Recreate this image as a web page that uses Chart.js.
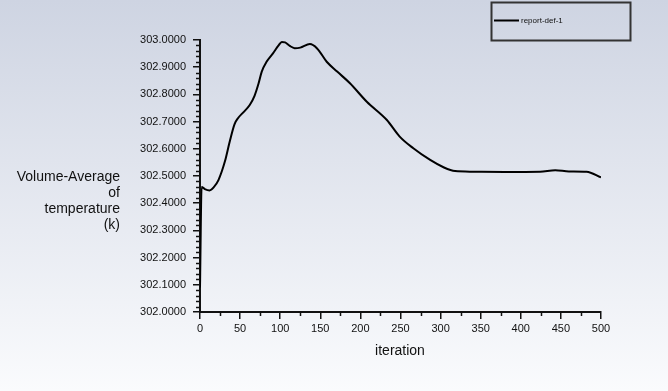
<!DOCTYPE html>
<html>
<head>
<meta charset="utf-8">
<script src="https://cdn.jsdelivr.net/npm/chart.js@4.4.1/dist/chart.umd.min.js"></script>
<style>
  html, body { margin: 0; padding: 0; background: #fff; }
  canvas { display: block; }
</style>
</head>
<body>
<canvas id="grafico" width="668" height="391"></canvas>
<script>
// datos
const iteraciones = [0, 2, 6, 12, 17, 23, 31, 37, 43, 48, 54, 62, 68, 73, 77, 83, 91, 98, 102, 106, 112, 118, 125, 137, 146, 158, 171, 187, 208, 233, 249, 266, 287, 303, 318, 340, 380, 424, 443, 460, 482, 500];
const temperatura = [302.09, 302.46, 302.452, 302.447, 302.458, 302.485, 302.553, 302.626, 302.69, 302.715, 302.734, 302.761, 302.795, 302.84, 302.884, 302.92, 302.951, 302.98, 302.993, 302.991, 302.978, 302.970, 302.972, 302.985, 302.969, 302.920, 302.884, 302.841, 302.773, 302.706, 302.645, 302.602, 302.559, 302.533, 302.518, 302.516, 302.515, 302.516, 302.521, 302.517, 302.516, 302.495];
const nombreSerie = 'report-def-1';
const tituloY = ['Volume-Average', 'of', 'temperature', '(k)'];
const tituloX = 'iteration';

const fuente = 'Arial, "Liberation Sans", sans-serif';

// fondo degradado, titulos, ticks menores y leyenda
const decoracion = {
    id: 'decoracion',
    beforeDraw(chart) {
        const ctx = chart.ctx;
        const g = ctx.createLinearGradient(0, 0, 0, chart.height);
        g.addColorStop(0, '#ced4e2');
        g.addColorStop(1, '#fafbfd');
        ctx.save();
        ctx.fillStyle = g;
        ctx.fillRect(0, 0, chart.width, chart.height);
        ctx.restore();
    },
    afterDraw(chart) {
        const ctx = chart.ctx;
        const x = chart.scales.x, y = chart.scales.y;
        const area = chart.chartArea;
        ctx.save();
        ctx.strokeStyle = '#111';
        ctx.lineWidth = 1.5;
        // ticks menores eje y
        for (let v = 302.02; v < 303; v += 0.02) {
            if (Math.abs(v * 10 - Math.round(v * 10)) < 0.001) continue;
            const py = Math.round(y.getPixelForValue(v)) + 0.5;
            ctx.beginPath();
            ctx.moveTo(area.left - 4, py);
            ctx.lineTo(area.left, py);
            ctx.stroke();
        }
        // ticks menores eje x
        for (let v = 25; v < 500; v += 50) {
            const px = Math.round(x.getPixelForValue(v)) + 0.5;
            ctx.beginPath();
            ctx.moveTo(px, area.bottom);
            ctx.lineTo(px, area.bottom + 4);
            ctx.stroke();
        }
        // titulo eje y
        ctx.fillStyle = '#111';
        ctx.font = '14px ' + fuente;
        ctx.textAlign = 'right';
        ctx.textBaseline = 'middle';
        tituloY.forEach((t, i) => ctx.fillText(t, 120, 177 + i * 16));
        // titulo eje x
        ctx.textAlign = 'center';
        ctx.fillText(tituloX, 400, 351);
        // leyenda
        ctx.strokeStyle = '#333';
        ctx.lineWidth = 2;
        ctx.strokeRect(491.5, 2.5, 139, 38);
        ctx.strokeStyle = '#000';
        ctx.beginPath();
        ctx.moveTo(494, 20.5);
        ctx.lineTo(519, 20.5);
        ctx.stroke();
        ctx.font = '8px ' + fuente;
        ctx.textAlign = 'left';
        ctx.fillText(nombreSerie, 521, 20.5);
        ctx.restore();
    }
};

new Chart(document.getElementById('grafico').getContext('2d'), {
    type: 'line',
    data: {
        datasets: [{
            label: nombreSerie,
            data: iteraciones.map((it, i) => ({ x: it, y: temperatura[i] })),
            borderColor: '#000',
            borderWidth: 2,
            pointRadius: 0,
            fill: false,
            cubicInterpolationMode: 'monotone'
        }]
    },
    options: {
        responsive: false,
        animation: false,
        layout: { padding: { top: 40, right: 67, left: 0, bottom: 0 } },
        plugins: { legend: { display: false }, tooltip: { enabled: false } },
        scales: {
            x: {
                type: 'linear',
                min: 0,
                max: 500,
                afterFit: s => { s.height = 79; },
                border: { display: true, color: '#111', width: 2 },
                grid: { drawOnChartArea: false, color: '#111', lineWidth: 1.5, tickLength: 7 },
                ticks: { stepSize: 50, color: '#111', font: { family: fuente, size: 11 }, padding: 3, maxRotation: 0 }
            },
            y: {
                min: 302,
                max: 303,
                afterFit: s => { s.width = 200; },
                border: { display: true, color: '#111', width: 2 },
                grid: { drawOnChartArea: false, color: '#111', lineWidth: 1.5, tickLength: 7 },
                ticks: {
                    stepSize: 0.1,
                    color: '#111',
                    font: { family: fuente, size: 11 },
                    padding: 7,
                    callback: v => Number(v).toFixed(4)
                }
            }
        }
    },
    plugins: [decoracion]
});
</script>
</body>
</html>
